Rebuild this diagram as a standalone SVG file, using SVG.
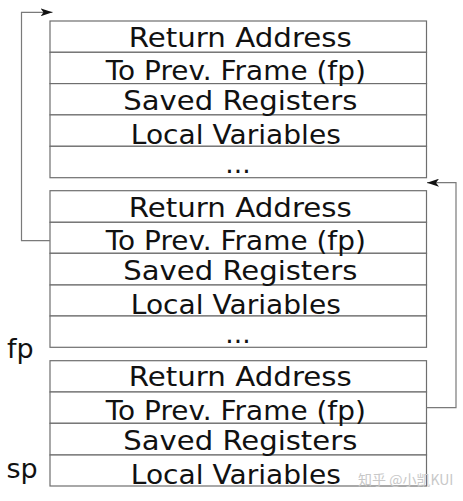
<svg xmlns="http://www.w3.org/2000/svg" width="463" height="501" viewBox="0 0 463 501">
<style>
.cell{fill:#fff;stroke:#6e6e6e;stroke-width:1.2}
.t{font-family:"DejaVu Sans",sans-serif;font-size:26.5px;fill:#111;text-anchor:middle}
.lbl{font-family:"DejaVu Sans",sans-serif;font-size:27px;fill:#111}
.conn{fill:none;stroke:#7a7a7a;stroke-width:1.2}
.wm{font-family:"Noto Sans CJK SC","DejaVu Sans",sans-serif;font-size:14px;fill:#c8c8c8}
</style>
<defs>
<marker id="ah" viewBox="0 0 12 8" refX="12" refY="4" markerWidth="12" markerHeight="8" markerUnits="userSpaceOnUse" orient="auto">
<path d="M0,0 L12,4 L0,8 L3,4 Z" fill="#111"/>
</marker>
</defs>
<rect width="463" height="501" fill="#fff"/>
<g id="frame1">
<rect class="cell" x="50" y="21" width="376.5" height="31.3"/>
<rect class="cell" x="50" y="52.3" width="376.5" height="31.3"/>
<rect class="cell" x="50" y="83.6" width="376.5" height="31.3"/>
<rect class="cell" x="50" y="114.9" width="376.5" height="31.4"/>
<rect class="cell" x="50" y="146.3" width="376.5" height="31.4"/>
<text class="t" x="240.3" y="46.7" textLength="223" lengthAdjust="spacingAndGlyphs">Return Address</text>
<text class="t" x="235.8" y="80" textLength="260" lengthAdjust="spacingAndGlyphs">To Prev. Frame (fp)</text>
<text class="t" x="240.3" y="110" textLength="234" lengthAdjust="spacingAndGlyphs">Saved Registers</text>
<text class="t" x="235.8" y="144" textLength="210" lengthAdjust="spacingAndGlyphs">Local Variables</text>
<text class="t" x="238" y="173">...</text>
</g>
<g id="frame2">
<rect class="cell" x="50" y="190.7" width="376.5" height="31.6"/>
<rect class="cell" x="50" y="222.3" width="376.5" height="31"/>
<rect class="cell" x="50" y="253.3" width="376.5" height="31.7"/>
<rect class="cell" x="50" y="285" width="376.5" height="31"/>
<rect class="cell" x="50" y="316" width="376.5" height="31.3"/>
<text class="t" x="240.3" y="216.7" textLength="223" lengthAdjust="spacingAndGlyphs">Return Address</text>
<text class="t" x="235.8" y="250" textLength="260" lengthAdjust="spacingAndGlyphs">To Prev. Frame (fp)</text>
<text class="t" x="240.3" y="280" textLength="234" lengthAdjust="spacingAndGlyphs">Saved Registers</text>
<text class="t" x="235.8" y="314" textLength="210" lengthAdjust="spacingAndGlyphs">Local Variables</text>
<text class="t" x="238" y="343.3">...</text>
</g>
<g id="frame3">
<rect class="cell" x="50" y="360.7" width="376.5" height="31.3"/>
<rect class="cell" x="50" y="392" width="376.5" height="31.3"/>
<rect class="cell" x="50" y="423.3" width="376.5" height="31.7"/>
<rect class="cell" x="50" y="455" width="376.5" height="31"/>
<text class="t" x="240.3" y="386" textLength="223" lengthAdjust="spacingAndGlyphs">Return Address</text>
<text class="t" x="235.8" y="420" textLength="260" lengthAdjust="spacingAndGlyphs">To Prev. Frame (fp)</text>
<text class="t" x="240.3" y="450" textLength="234" lengthAdjust="spacingAndGlyphs">Saved Registers</text>
<text class="t" x="235.8" y="484" textLength="210" lengthAdjust="spacingAndGlyphs">Local Variables</text>
</g>
<g id="label-fp"><text class="lbl" x="7" y="357.7">fp</text></g>
<g id="label-sp"><text class="lbl" x="6.5" y="478">sp</text></g>
<g id="connectors">
<path class="conn" d="M50,240.7 H21.5 V12.3 H52.5" marker-end="url(#ah)"/>
<path class="conn" d="M426.5,407.7 H456 V182.7 H427" marker-end="url(#ah)"/>
</g>
<text class="wm" x="358" y="485">知乎 @小凯KUI</text>
</svg>
